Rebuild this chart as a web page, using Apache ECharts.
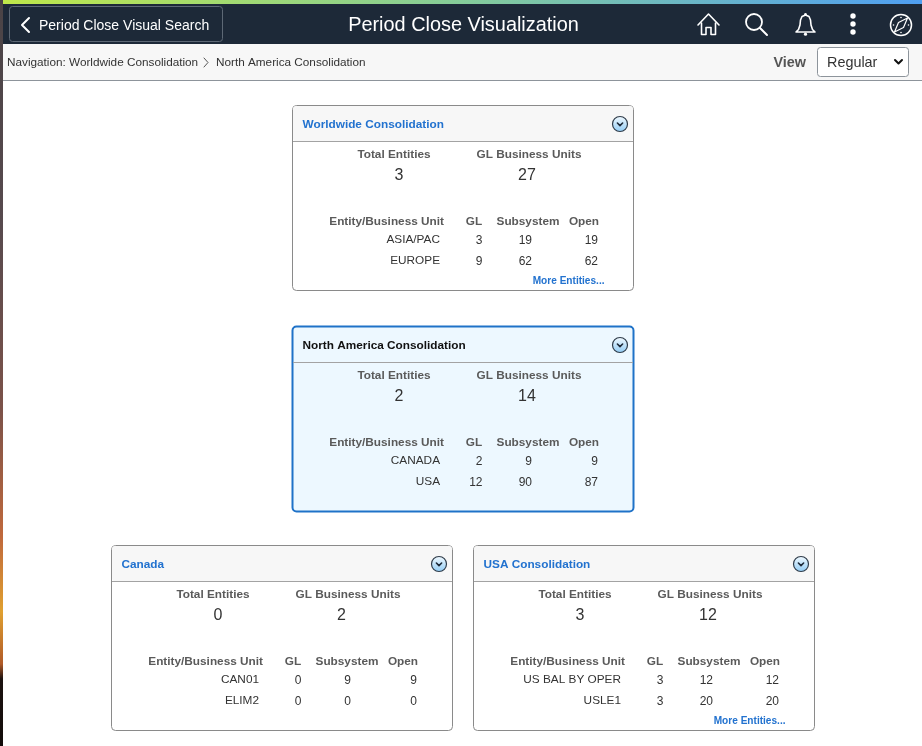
<!DOCTYPE html>
<html>
<head>
<meta charset="utf-8">
<title>Period Close Visualization</title>
<script src="https://cdn.jsdelivr.net/npm/echarts@6/dist/echarts.min.js"></script>
<style>
  html, body { margin: 0; padding: 0; background: #fff; }
  #container { width: 922px; height: 746px; }
</style>
</head>
<body>
<div id="container"></div>
<script>
var pageTitle = 'Period Close Visualization';
var backLabel = 'Period Close Visual Search';
var crumbs = ['Navigation: Worldwide Consolidation', 'North America Consolidation'];
var viewLabel = 'View';
var viewValue = 'Regular';
var summaryLabels = ['Total Entities', 'GL Business Units'];
var tableHeads = ['Entity/Business Unit', 'GL', 'Subsystem', 'Open'];
var moreLabel = 'More Entities...';

var cardTitles = ['Worldwide Consolidation', 'North America Consolidation', 'Canada', 'USA Consolidation'];
var totalEntities = [3, 2, 0, 3];
var glBusinessUnits = [27, 14, 2, 12];
var entityNames = [['ASIA/PAC', 'EUROPE'], ['CANADA', 'USA'], ['CAN01', 'ELIM2'], ['US BAL BY OPER', 'USLE1']];
var glCounts = [[3, 9], [2, 12], [0, 0], [3, 3]];
var subsystemCounts = [[19, 62], [9, 90], [9, 0], [12, 20]];
var openCounts = [[19, 62], [9, 87], [9, 0], [12, 20]];
var hasMore = [true, false, false, true];
var selectedCard = 1;

var FONT = '"Liberation Sans", Arial, sans-serif';
var els = [];

function txt(x, y, s, size, color, align, weight) {
    els.push({
        type: 'text', x: x, y: y + 2, silent: true,
        style: {
            text: String(s), fill: color, font: (weight || 'normal') + ' ' + size + 'px ' + FONT,
            align: align || 'left', verticalAlign: 'middle'
        }
    });
}
function rect(x, y, w, h, fill, stroke, lw, r) {
    els.push({
        type: 'rect', shape: { x: x, y: y, width: w, height: h, r: r || 0 },
        style: { fill: fill || 'none', stroke: stroke || 'none', lineWidth: lw || 0 }
    });
}
function poly(points, color, lw) {
    els.push({
        type: 'polyline', shape: { points: points },
        style: { fill: 'none', stroke: color, lineWidth: lw, lineCap: 'round', lineJoin: 'round' }
    });
}
function circle(cx, cy, r, fill, stroke, lw) {
    els.push({
        type: 'circle', shape: { cx: cx, cy: cy, r: r },
        style: { fill: fill || 'none', stroke: stroke || 'none', lineWidth: lw || 0 }
    });
}

// window edge behind the page, and the coloured strip on top
function drawFrame() {
    rect(0, 0, 922, 746, '#ffffff');
    rect(0, 0, 3, 746, {
        type: 'linear', x: 0, y: 0, x2: 0, y2: 1,
        colorStops: [
            { offset: 0, color: '#4a4346' }, { offset: 0.3, color: '#574a4e' },
            { offset: 0.55, color: '#7c5249' }, { offset: 0.72, color: '#c0693c' },
            { offset: 0.82, color: '#e0a030' }, { offset: 0.89, color: '#b05a28' },
            { offset: 0.91, color: '#1c1210' }, { offset: 1, color: '#120c0a' }
        ]
    });
    rect(3, 0, 919, 4, {
        type: 'linear', x: 0, y: 0, x2: 1, y2: 0,
        colorStops: [
            { offset: 0, color: '#bfe84a' }, { offset: 0.5, color: '#85cc9a' }, { offset: 1, color: '#4f9ff2' }
        ]
    });
    rect(3, 4, 919, 40, '#1d2938');
    rect(3, 44, 919, 36, '#f7f7f7');
    rect(3, 80, 919, 1, '#8d949b');
}

function drawHeader() {
    rect(9.5, 6.5, 213, 35, '#1d2938', '#5d6875', 1, 3);
    poly([[29, 18], [22, 25], [29, 32]], '#ffffff', 2);
    txt(39, 24.5, backLabel, 14, '#ffffff');
    txt(463.5, 23.5, pageTitle, 19.9, '#ffffff', 'center');

    // home
    poly([[698, 25], [708.5, 14], [719, 25]], '#ffffff', 1.6);
    poly([[701.5, 23], [701.5, 34.5], [706, 34.5], [706, 27.5], [711, 27.5], [711, 34.5], [715.5, 34.5], [715.5, 23]], '#ffffff', 1.6);
    // search
    circle(754, 22, 8, 'none', '#ffffff', 1.8);
    poly([[760, 28], [767, 35]], '#ffffff', 2);
    // bell
    poly([[796, 32], [798.5, 29.5], [800, 25], [800.5, 20], [802, 16.5], [805.5, 15], [809, 16.5], [810.5, 20], [811, 25], [812.5, 29.5], [815, 32], [796, 32]], '#ffffff', 1.6);
    circle(805.5, 14.2, 1.3, '#ffffff');
    circle(805.5, 34.2, 1.6, '#ffffff');
    // actions menu
    circle(853, 16, 2.7, '#ffffff');
    circle(853, 24, 2.7, '#ffffff');
    circle(853, 32, 2.7, '#ffffff');
    // nav bar compass
    circle(901, 25, 10.5, 'none', '#ffffff', 1.5);
    poly([[907.5, 18], [903.5, 27.5], [894.5, 32], [898.5, 22.5], [907.5, 18]], '#ffffff', 1.2);
    circle(901, 17.5, 0.8, '#ffffff');
    circle(893.5, 25, 0.8, '#ffffff');
    circle(908.5, 25, 0.8, '#ffffff');
    circle(901, 32.5, 0.8, '#ffffff');
}

function drawNavBar() {
    txt(7, 60.5, crumbs[0], 11.75, '#333333');
    poly([[204, 58], [208, 62.5], [204, 67]], '#555555', 1);
    txt(216, 60.5, crumbs[1], 11.75, '#333333');
    txt(806, 61, viewLabel, 14.4, '#555555', 'right', 'bold');
    rect(817.5, 47.5, 91, 29, '#ffffff', '#8d949b', 1, 3);
    txt(827, 61, viewValue, 14.4, '#333333');
    poly([[895, 60], [898.5, 63.5], [902, 60]], '#111111', 2);
}

function drawToggle(cx, cy) {
    circle(cx, cy, 7.5, {
        type: 'linear', x: 0, y: 0, x2: 0, y2: 1,
        colorStops: [{ offset: 0, color: '#f4fbff' }, { offset: 1, color: '#8fcbf5' }]
    }, '#2f3c4a', 1.2);
    poly([[cx - 2.6, cy - 1], [cx, cy + 1.6], [cx + 2.6, cy - 1]], '#1d2938', 1.6);
}

function drawCard(i, x, y) {
    var selected = i === selectedCard;
    var gray = '#5a5a5a', dark = '#333333', blue = '#2272cf';
    rect(x + 0.5, y + 0.5, 341, 185, selected ? '#edf8ff' : '#ffffff', selected ? '#1f72c8' : '#8a8a8a', selected ? 2 : 1, 4);
    if (!selected) {
        rect(x + 1, y + 1, 340, 35, '#f7f7f7', null, 0, 3);
    }
    rect(x + 1, y + 36, 340, 1, '#a3a3a3');
    txt(x + 10.5, y + 18, cardTitles[i], 11.8, selected ? '#111111' : blue, 'left', 'bold');
    drawToggle(x + 328, y + 19);

    txt(x + 102, y + 48, summaryLabels[0], 11.8, gray, 'center', 'bold');
    txt(x + 237, y + 48, summaryLabels[1], 11.8, gray, 'center', 'bold');
    // the two big counts sit left aligned in their columns
    txt(x + 102.5, y + 69, totalEntities[i], 16, dark, 'left');
    txt(x + 226, y + 69, glBusinessUnits[i], 16, dark, 'left');

    txt(x + 152, y + 115, tableHeads[0], 11.8, gray, 'right', 'bold');
    txt(x + 182, y + 115, tableHeads[1], 11.8, gray, 'center', 'bold');
    txt(x + 236, y + 115, tableHeads[2], 11.8, gray, 'center', 'bold');
    txt(x + 292, y + 115, tableHeads[3], 11.8, gray, 'center', 'bold');

    var names = entityNames[i];
    for (var r = 0; r < names.length; r++) {
        txt(x + 148, y + 132.5 + r * 21, names[r], 11.8, dark, 'right');
        txt(x + 190.5, y + 133.5 + r * 21, glCounts[i][r], 12, dark, 'right');
        txt(x + 240, y + 133.5 + r * 21, subsystemCounts[i][r], 12, dark, 'right');
        txt(x + 306, y + 133.5 + r * 21, openCounts[i][r], 12, dark, 'right');
    }
    if (hasMore[i]) {
        txt(x + 312.5, y + 174, moreLabel, 10.1, blue, 'right', 'bold');
    }
}

drawFrame();
drawHeader();
drawNavBar();
var cardX = [292, 292, 111, 473];
var cardY = [105, 326, 545, 545];
for (var i = 0; i < cardTitles.length; i++) {
    drawCard(i, cardX[i], cardY[i]);
}

var dom = document.getElementById('container');
var myChart = echarts.init(dom, null, { renderer: 'canvas' });
myChart.setOption({
    animation: false,
    graphic: { elements: els }
});
</script>
</body>
</html>
